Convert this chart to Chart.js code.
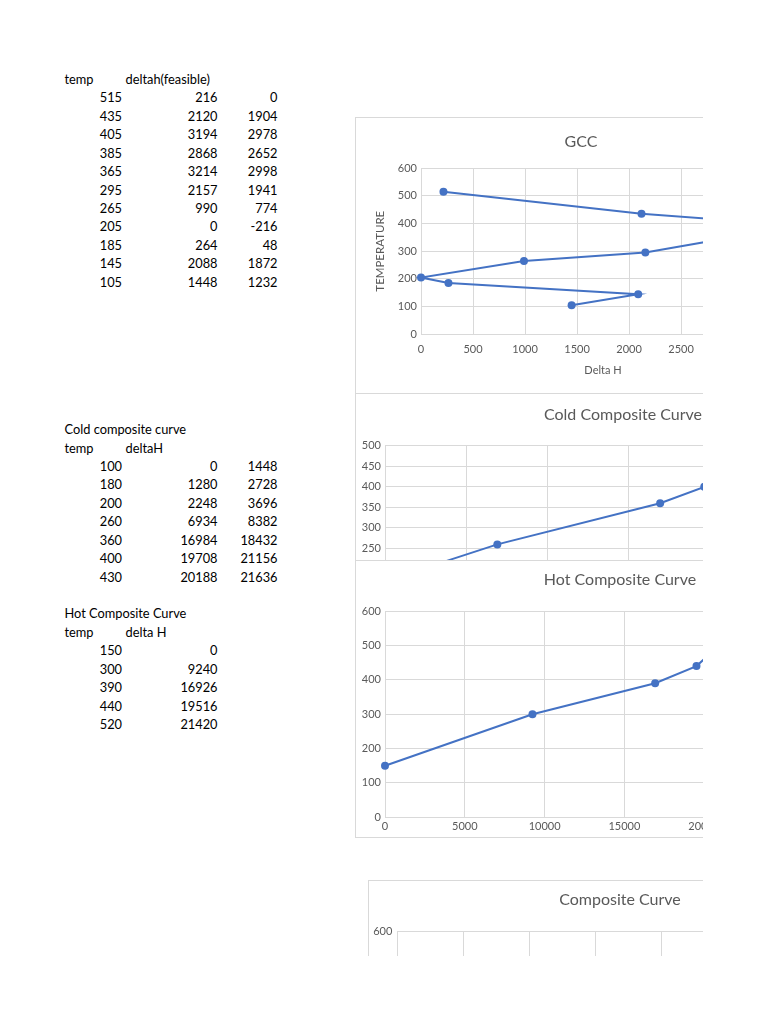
<!DOCTYPE html>
<html><head><meta charset="utf-8">
<script src="https://cdn.jsdelivr.net/npm/chart.js@4.4.1/dist/chart.umd.min.js"></script>
<style>
html,body{margin:0;padding:0;background:#fff;}
#page{position:relative;width:703px;height:956px;overflow:hidden;background:#fff;font-family:Lato,'Liberation Sans',sans-serif;}
.cell{position:absolute;font-size:12.8px;color:#000;white-space:nowrap;height:18px;line-height:18px;}
.box{position:absolute;border:1px solid #d9d9d9;background:#fff;}
.box canvas{display:block;}
</style></head><body>
<div id="page">
  <div class="box" style="left:355px;top:117px;"><canvas id="cGcc" width="450" height="275"></canvas></div>
  <div class="box" style="left:355px;top:393px;"><canvas id="cCold" width="534" height="275"></canvas></div>
  <div class="box" style="left:355px;top:560px;"><canvas id="cHot" width="528" height="276"></canvas></div>
  <div class="box" style="left:368px;top:880px;"><canvas id="cComp" width="502" height="290"></canvas></div>
</div>
<script>
// ---- data ----
const gccTemp = [515, 435, 405, 385, 365, 295, 265, 205, 185, 145, 105];
const gccDeltaH = [216, 2120, 3194, 2868, 3214, 2157, 990, 0, 264, 2088, 1448];
const gccShifted = [0, 1904, 2978, 2652, 2998, 1941, 774, -216, 48, 1872, 1232];
const coldTemp = [100, 180, 200, 260, 360, 400, 430];
const coldDeltaH = [0, 1280, 2248, 6934, 16984, 19708, 20188];
const coldShifted = [1448, 2728, 3696, 8382, 18432, 21156, 21636];
const hotTemp = [150, 300, 390, 440, 520];
const hotDeltaH = [0, 9240, 16926, 19516, 21420];

// ---- sheet text ----
const page = document.getElementById('page');
const ROW0 = 79, ROWH = 18.43;
const COL_A_RIGHT = 122, COL_B_RIGHT = 217.5, COL_C_RIGHT = 277.5;
function cell(text, row, x, alignRight) {
  const d = document.createElement('div');
  d.className = 'cell';
  d.textContent = text;
  d.style.top = (ROW0 + row * ROWH - 9) + 'px';
  if (alignRight) { d.style.right = (703 - x) + 'px'; d.style.textAlign = 'right'; }
  else d.style.left = x + 'px';
  page.insertBefore(d, page.firstChild);
}
cell('temp', 0, 64.5); cell('deltah(feasible)', 0, 125.5);
gccTemp.forEach((t, i) => {
  cell(String(t), i + 1, COL_A_RIGHT, true);
  cell(String(gccDeltaH[i]), i + 1, COL_B_RIGHT, true);
  cell(String(gccShifted[i]), i + 1, COL_C_RIGHT, true);
});
cell('Cold composite curve', 19, 64.5);
cell('temp', 20, 64.5); cell('deltaH', 20, 125.5);
coldTemp.forEach((t, i) => {
  cell(String(t), 21 + i, COL_A_RIGHT, true);
  cell(String(coldDeltaH[i]), 21 + i, COL_B_RIGHT, true);
  cell(String(coldShifted[i]), 21 + i, COL_C_RIGHT, true);
});
cell('Hot Composite Curve', 29, 64.5);
cell('temp', 30, 64.5); cell('delta H', 30, 125.5);
hotTemp.forEach((t, i) => {
  cell(String(t), 31 + i, COL_A_RIGHT, true);
  cell(String(hotDeltaH[i]), 31 + i, COL_B_RIGHT, true);
});

// ---- charts ----
const GREY = '#595959', GRID = '#d9d9d9', BLUE = '#4472c4';
const FONT = 'Lato';
function pts(xs, ys) { return xs.map((x, i) => ({x: x, y: ys[i]})); }
function makeChart(id, series, o) {
  const xTitle = o.xTitle ? {display: true, text: o.xTitle, color: GREY, font: {family: FONT, size: 11}, padding: {top: 0, bottom: o.xTitlePad}} : {display: false};
  const yTitle = o.yTitle ? {display: true, text: o.yTitle, color: GREY, font: {family: FONT, size: 11.5}, padding: {top: o.yTitlePad, bottom: 0}} : {display: false};
  return new Chart(document.getElementById(id), {
    type: 'scatter',
    data: {datasets: series.map(s => ({
      data: s, showLine: true, borderColor: BLUE, backgroundColor: BLUE,
      borderWidth: 2, pointRadius: 4, pointHoverRadius: 4, pointBorderWidth: 0, tension: 0,
      yAxisID: 'y', clip: false
    }))},
    options: {
      responsive: false, animation: false, devicePixelRatio: 1,
      layout: {padding: 0},
      plugins: {
        legend: {display: false}, tooltip: {enabled: false},
        title: {display: true, text: o.title, color: GREY, font: {family: FONT, size: 16, weight: 'normal'}, padding: {top: o.tTop, bottom: o.tBot}}
      },
      scales: {
        x: {type: 'linear', min: o.xMin, max: o.xMax,
          ticks: {stepSize: o.xStep, color: GREY, font: {family: FONT, size: 11}, padding: o.xPad, maxRotation: 0, autoSkip: false, callback: v => String(v)},
          grid: {color: GRID, drawTicks: false}, border: {color: GRID},
          title: xTitle,
          afterFit: s => { s.height = o.xH; }},
        y: {type: 'linear', position: 'left', min: o.yMin, max: o.yMax,
          ticks: {stepSize: o.yStep, color: GREY, font: {family: FONT, size: 11}, padding: o.yPad, callback: v => String(v)},
          grid: {color: GRID, drawTicks: false}, border: {color: GRID},
          title: yTitle,
          afterFit: s => { s.width = o.yW; }},
        spacer: {type: 'linear', position: 'right', display: true,
          ticks: {display: false}, grid: {display: false}, border: {display: false},
          afterFit: s => { s.width = o.padRight; }}
      }
    }
  });
}

makeChart('cGcc', [pts(gccDeltaH, gccTemp)], {
  title: 'GCC', tTop: 14.2, tBot: 16.7, padRight: 18,
  xMin: 0, xMax: 3500, xStep: 500, xPad: 8.2, xH: 58.7, xTitle: 'Delta H', xTitlePad: 16.4,
  yMin: 0, yMax: 600, yStep: 100, yPad: 4, yW: 65, yTitle: 'TEMPERATURE', yTitlePad: 17.5
});
makeChart('cCold', [pts(coldDeltaH, coldTemp)], {
  title: 'Cold Composite Curve', tTop: 11.2, tBot: 21.3, padRight: 100,
  xMin: 0, xMax: 25000, xStep: 5000, xPad: 3, xH: 17.7,
  yMin: 0, yMax: 500, yStep: 50, yPad: 4, yW: 29
});
makeChart('cHot', [pts(hotDeltaH, hotTemp)], {
  title: 'Hot Composite Curve', tTop: 9.5, tBot: 21.4, padRight: 100,
  xMin: 0, xMax: 25000, xStep: 5000, xPad: 2.9, xH: 19.7,
  yMin: 0, yMax: 600, yStep: 100, yPad: 4, yW: 29
});
makeChart('cComp', [pts(hotDeltaH, hotTemp), pts(coldShifted, coldTemp)], {
  title: 'Composite Curve', tTop: 9.5, tBot: 21.7, padRight: 143,
  xMin: 0, xMax: 25000, xStep: 5000, xPad: 3, xH: 19.7,
  yMin: 0, yMax: 600, yStep: 100, yPad: 5, yW: 28.3
});
</script>
</body></html>
